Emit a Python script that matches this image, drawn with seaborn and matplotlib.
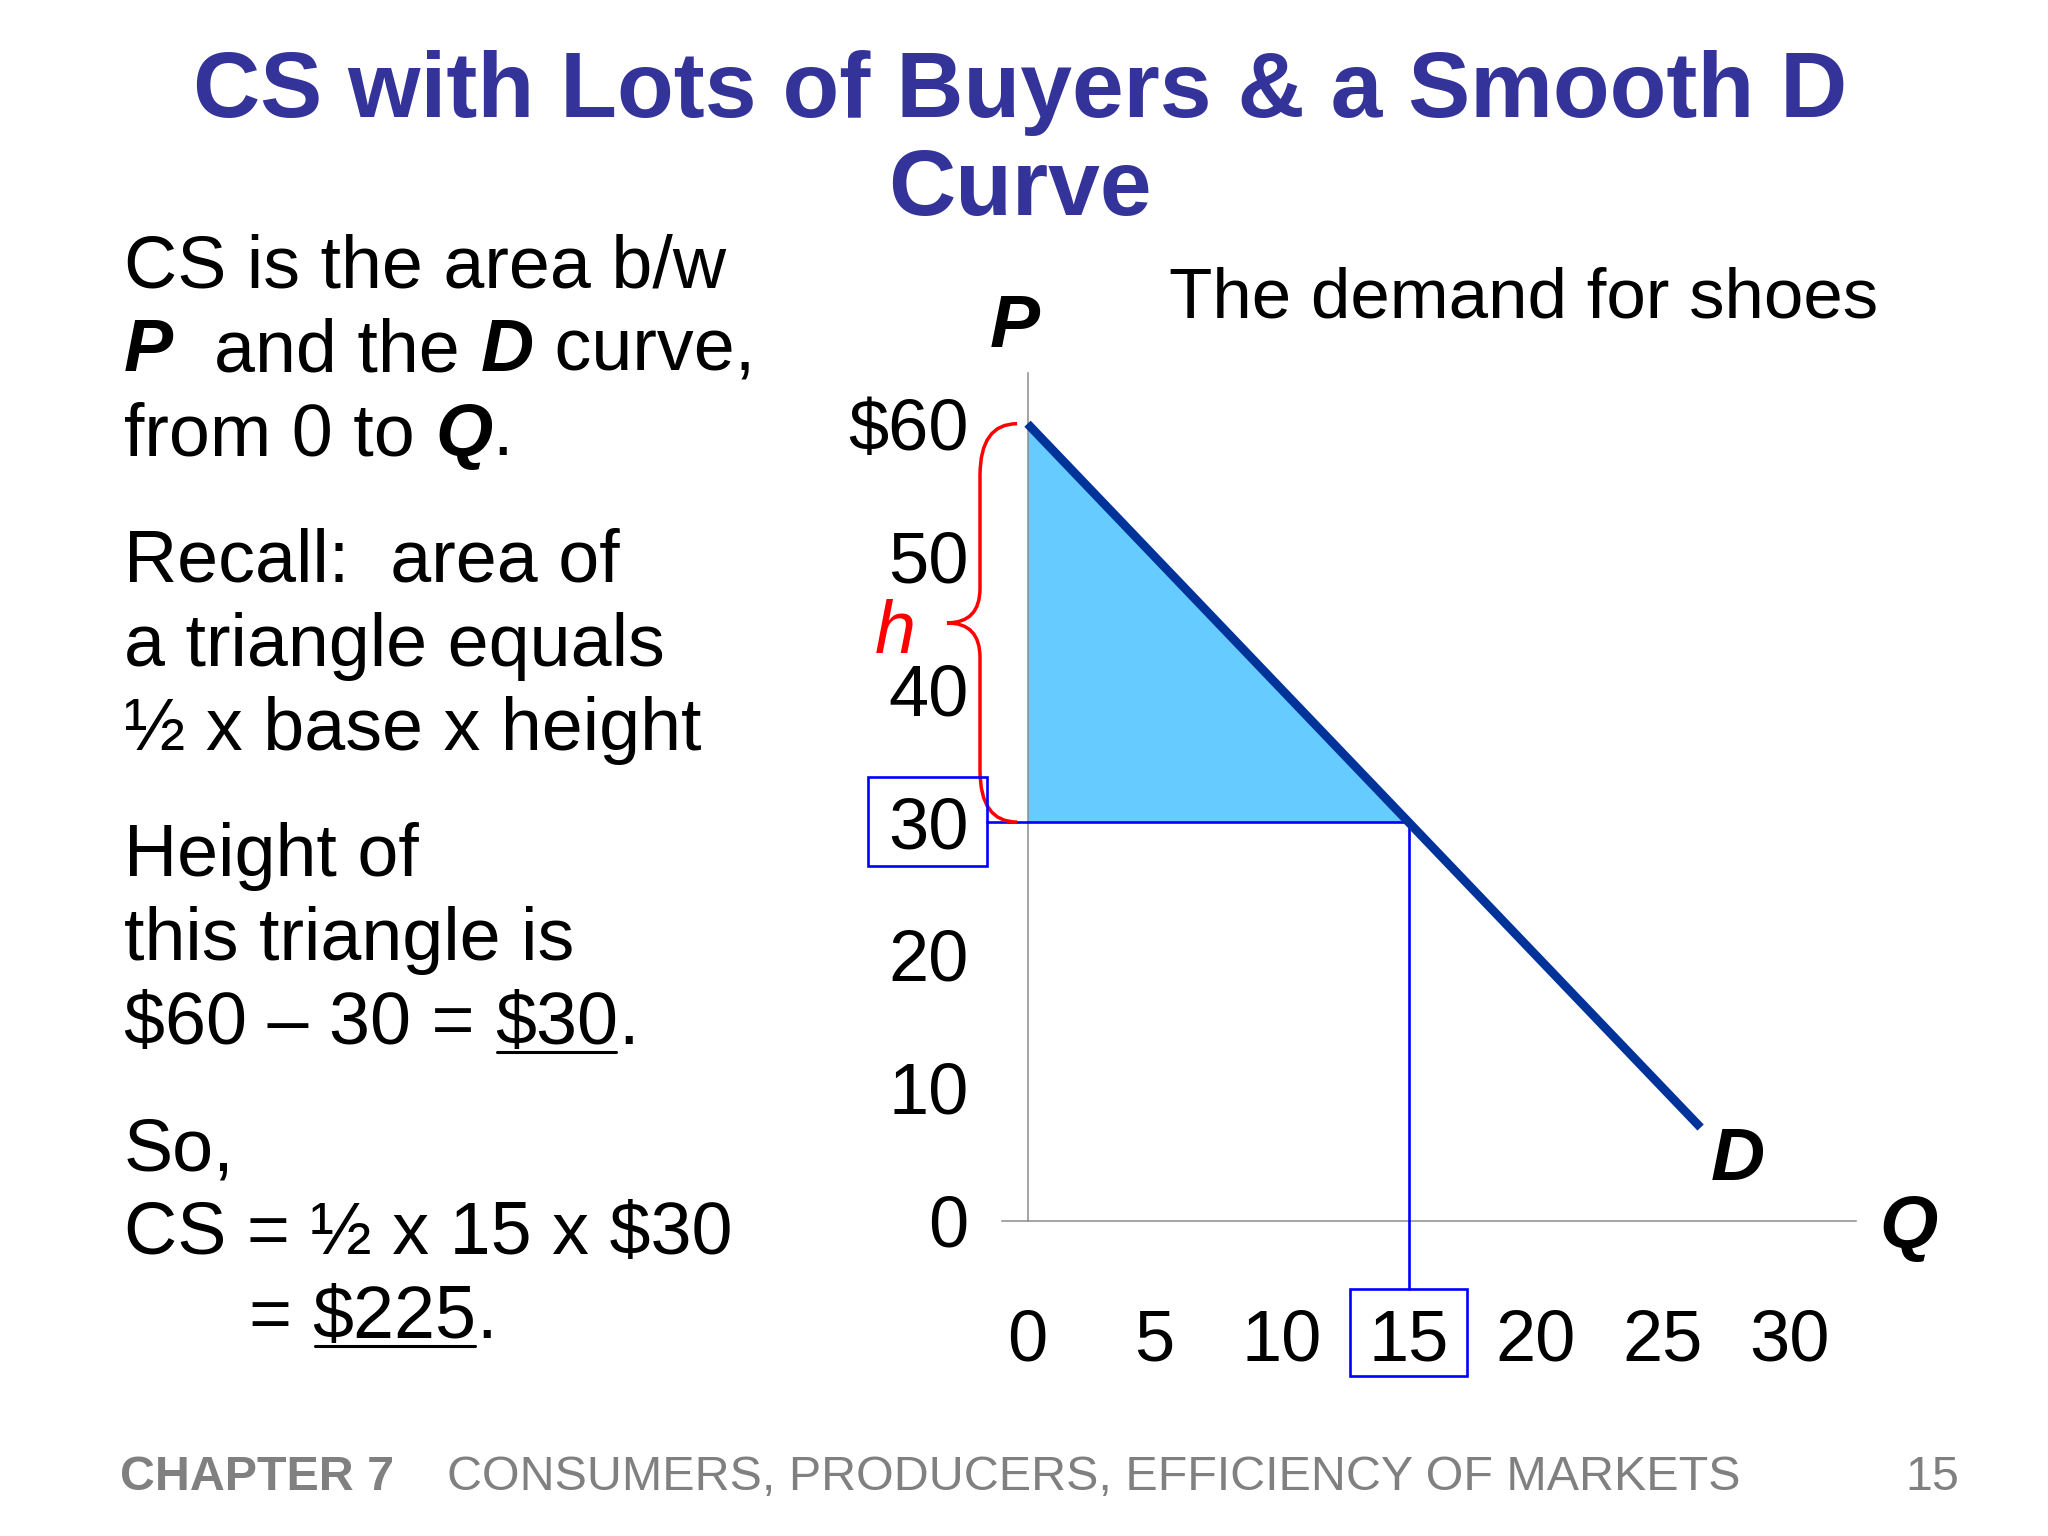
import numpy as np
import pandas as pd
import seaborn as sns
import matplotlib
matplotlib.use("Agg")
import matplotlib.pyplot as plt
from matplotlib.patches import Rectangle, PathPatch
from matplotlib.path import Path
from matplotlib.lines import Line2D

# ---------------- data ----------------
demand_q = [0, 26.5]
demand_p = [60, 7]
cs_q = [0, 15]
cs_upper = [60, 30]
eq_price = 30
eq_qty = 15
x_ticks = [0, 5, 10, 15, 20, 25, 30]
x_tick_labels = ["0", "5", "10", "15", "20", "25", "30"]
y_ticks = [0, 10, 20, 30, 40, 50, 60]
y_tick_labels = ["0", "10", "20", "30", "40", "50", "$60"]

title_lines = ["CS with Lots of Buyers & a Smooth D", "Curve"]
chart_caption = "The demand for shoes"
footer_bold = "CHAPTER 7"
footer_text = "CONSUMERS, PRODUCERS, EFFICIENCY OF MARKETS"
page_number = "15"

# ---------------- style ----------------
sns.set_theme(style="white")
plt.rcParams["font.family"] = ["Liberation Sans", "DejaVu Sans"]

W, H = 2048, 1536
fig = plt.figure(figsize=(W / 100, H / 100), dpi=100, facecolor="white")

# axes placement (pixel layout)
x0_px, q_px = 1027.5, 25.4
y0_px, p_px = 1220.5, 13.28
xlim = (-1.0, 32.6)
ylim = (-1.8, 63.8)
left_px = x0_px + xlim[0] * q_px
right_px = x0_px + xlim[1] * q_px
top_px = y0_px - ylim[1] * p_px
bot_px = y0_px - ylim[0] * p_px
ax = fig.add_axes([left_px / W, 1 - bot_px / H, (right_px - left_px) / W, (bot_px - top_px) / H])
ax.set_facecolor("none")
ax.set_xlim(*xlim)
ax.set_ylim(*ylim)

GRAY = "#8c8c8c"
for side in ["top", "right"]:
    ax.spines[side].set_visible(False)
ax.spines["left"].set_position(("data", 0))
ax.spines["bottom"].set_position(("data", 0))
ax.spines["left"].set_bounds(0, ylim[1])
for side in ["left", "bottom"]:
    ax.spines[side].set_color(GRAY)
    ax.spines[side].set_linewidth(1.1)

ax.set_xticks(x_ticks)
ax.set_xticklabels(x_tick_labels)
ax.set_yticks(y_ticks)
ax.set_yticklabels(y_tick_labels)
ax.tick_params(axis="x", direction="out", length=17.3, width=1.1, color=GRAY,
               pad=46, labelsize=52, labelcolor="black")
ax.tick_params(axis="y", direction="out", length=16.5, width=1.1, color=GRAY,
               pad=26, labelsize=52, labelcolor="black")
ax.set_xlabel("")
ax.set_ylabel("")

# consumer surplus triangle
ax.fill_between(cs_q, cs_upper, eq_price, color="#66CCFF", linewidth=0, zorder=1)

# demand curve
sns.lineplot(x=demand_q, y=demand_p, ax=ax, color="#003399", linewidth=6.3,
             solid_capstyle="butt", zorder=4, legend=False)

# guide lines
def px_to_data_x(px):
    return (px - x0_px) / q_px

def px_to_data_y(py):
    return (y0_px - py) / p_px

BLUE = "#0000FF"
box30 = (868, 777, 987, 866)   # left, top, right, bottom (pixels)
box15 = (1350, 1289, 1467, 1376)
ax.plot([px_to_data_x(box30[2]), eq_qty], [eq_price, eq_price], color=BLUE, lw=1.9,
        clip_on=False, zorder=3)
ax.plot([eq_qty, eq_qty], [eq_price, px_to_data_y(box15[1])], color=BLUE, lw=1.9,
        clip_on=False, zorder=3)

# boxes around 30 and 15
for (l, t, r, b) in [box30, box15]:
    fig.add_artist(Rectangle((l / W, 1 - b / H), (r - l) / W, (b - t) / H,
                             transform=fig.transFigure, fill=False,
                             edgecolor=BLUE, linewidth=1.9))

# red brace (height h) from P=30 to P=60
top_p, bot_p = 60, 30
mid_p = (top_p + bot_p) / 2
x_end, x_vert, x_tip = -0.41, -1.87, -3.17
r_end, r_tip = 3.9, 2.6
verts = [
    (x_end, top_p), (x_vert, top_p), (x_vert, top_p - r_end),
    (x_vert, mid_p + r_tip),
    (x_vert, mid_p), (x_tip, mid_p),
    (x_vert, mid_p), (x_vert, mid_p - r_tip),
    (x_vert, bot_p + r_end),
    (x_vert, bot_p), (x_end, bot_p),
]
codes = [Path.MOVETO, Path.CURVE3, Path.CURVE3, Path.LINETO,
         Path.CURVE3, Path.CURVE3, Path.CURVE3, Path.CURVE3,
         Path.LINETO, Path.CURVE3, Path.CURVE3]
ax.add_patch(PathPatch(Path(verts, codes), fill=False, edgecolor="red", lw=2.5,
                       clip_on=False, zorder=5))

# ---------------- text ----------------
def fx(px):
    return px / W

def fy(py):
    return 1 - py / H

renderer = fig.canvas.get_renderer()

def text_width(s, **kw):
    t1 = fig.text(0, 0, "|" + s + "|", parse_math=False, **kw)
    w1 = t1.get_window_extent(renderer).width
    t1.remove()
    t2 = fig.text(0, 0, "||", parse_math=False, **kw)
    w2 = t2.get_window_extent(renderer).width
    t2.remove()
    return w1 - w2

BODY = 53
normal = dict(fontsize=BODY, color="black")
bi = dict(fontsize=BODY, color="black", fontweight="bold", fontstyle="italic")

def rich(x_px, base_px, pieces):
    x = x_px
    for item in pieces:
        s, kw = item[0], item[1]
        ul = len(item) > 2 and item[2]
        fig.text(fx(x), fy(base_px), s, ha="left", va="baseline", parse_math=False, **kw)
        w = text_width(s, **kw)
        if ul:
            fig.add_artist(Line2D([fx(x + 2), fx(x + w - 2)], [fy(base_px + 8)] * 2,
                                  transform=fig.transFigure, color="black", lw=2.2))
        x += w

LX = 124
rich(LX, 287, [("CS is the area b/w", normal)])
rich(LX, 371, [("P", bi), ("  and the ", normal), ("D", bi), (" curve,", normal)])
rich(LX, 455, [("from 0 to ", normal), ("Q", bi), (".", normal)])

rich(LX, 582, [("Recall:  area of", normal)])
rich(LX, 666, [("a triangle equals", normal)])
rich(LX, 750, [("½ x base x height", normal)])

rich(LX, 876, [("Height of", normal)])
rich(LX, 960, [("this triangle is", normal)])
rich(LX, 1044, [("$60 – 30 = ", normal), ("$30", normal, True), (".", normal)])

rich(LX, 1170, [("So,", normal)])
rich(LX, 1254, [("CS = ½ x 15 x $30", normal)])
rich(249, 1338, [("= ", normal), ("$225", normal, True), (".", normal)])

# title
TITLE_C = "#333399"
fig.text(fx(1020), fy(117), title_lines[0], ha="center", va="baseline", fontsize=67,
         fontweight="bold", color=TITLE_C, parse_math=False)
fig.text(fx(1020), fy(215), title_lines[1], ha="center", va="baseline", fontsize=67,
         fontweight="bold", color=TITLE_C, parse_math=False)

# chart labels
fig.text(fx(1169), fy(318), chart_caption, ha="left", va="baseline", fontsize=51,
         color="black", parse_math=False)
lab = dict(fontsize=54, fontweight="bold", fontstyle="italic", color="black")
fig.text(fx(1015), fy(347), "P", ha="center", va="baseline", **lab)
fig.text(fx(1738), fy(1180), "D", ha="center", va="baseline", **lab)
fig.text(fx(1909), fy(1247), "Q", ha="center", va="baseline", **lab)
fig.text(fx(895), fy(653), "h", ha="center", va="baseline", fontsize=53,
         fontstyle="italic", color="red")

# footer
FOOT = "#808080"
fig.text(fx(120), fy(1490), footer_bold, ha="left", va="baseline", fontsize=34.8,
         fontweight="bold", color=FOOT)
fig.text(fx(447), fy(1490), footer_text, ha="left", va="baseline", fontsize=34.8,
         color=FOOT)
fig.text(fx(1959), fy(1490), page_number, ha="right", va="baseline", fontsize=34.8,
         color=FOOT)

fig.savefig("out.png", dpi=100, facecolor="white")
